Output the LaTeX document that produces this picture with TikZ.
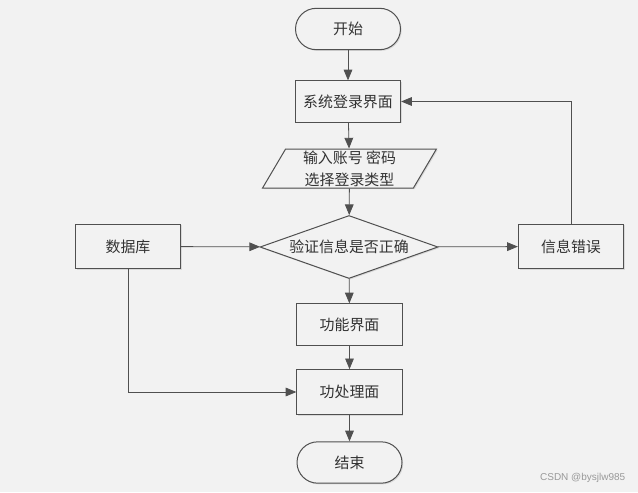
\documentclass[tikz,border=0pt]{standalone}
\usepackage{fontspec}
\setmainfont{Noto Sans CJK SC}
\newfontfamily\wmfont{Liberation Sans}
\usetikzlibrary{shapes.geometric,arrows.meta,shadows}
\definecolor{bg}{HTML}{F2F2F2}
\definecolor{ln}{HTML}{505050}
\definecolor{tx}{HTML}{333333}
\tikzset{
  base/.style={draw=ln, line width=0.75pt, fill=bg, text=tx, font=\fontsize{11.2pt}{14pt}\selectfont,
    drop shadow={shadow xshift=0.9pt, shadow yshift=-0.9pt, fill=black, opacity=0.10}},
  term/.style={base, rectangle, rounded corners=15.5pt, minimum width=78.75pt, minimum height=31pt},
  proc/.style={base, rectangle, minimum width=79pt, minimum height=31pt},
  procb/.style={base, rectangle, minimum width=79pt, minimum height=33.5pt},
  io/.style={base, trapezium, trapezium left angle=65, trapezium right angle=115, trapezium stretches=true,
    minimum width=131pt, minimum height=29.25pt, inner sep=0pt, align=center, font=\fontsize{11.2pt}{16.5pt}\selectfont},
  dec/.style={base, diamond, aspect=2.83, minimum width=133.5pt, minimum height=47.25pt, inner sep=0pt},
  conn/.style={draw=ln, line width=0.6pt, -{Triangle[length=8pt,width=6.5pt]}}
}
\begin{document}
\begin{tikzpicture}[x=0.75pt,y=-0.75pt]
\fill[bg] (0,0) rectangle (638,492);
\path[use as bounding box] (0,0) rectangle (638,492);
\node[term] (start) at (348,29) {开始};
\node[proc] (login) at (348,101.5) {系统登录界面};
\node[io] (input) at (349.5,168.5) {输入账号 密码\\选择登录类型};
\node[dec] (check) at (349,247) {验证信息是否正确};
\node[procb] (db) at (128,246.5) {数据库};
\node[procb] (err) at (571,246.5) {信息错误};
\node[proc] (func) at (349.5,324.5) {功能界面};
\node[procb] (work) at (349.5,392) {功处理面};
\node[term] (end) at (349.5,462.5) {结束};
\draw[conn] (start) -- (login);
\draw[conn] (login) -- (input);
\draw[conn] (input) -- (check);
\draw[conn] (check) -- (func);
\draw[conn] (func) -- (work);
\draw[conn] (work) -- (end);
\draw[conn] (db) -- (check);
\draw[conn] (check) -- (err);
\draw[conn] (err.north) |- (login.east);
\draw[conn] (db.south) |- (work.west);
\node[font=\wmfont\fontsize{7.5pt}{9pt}\selectfont, text=black!40, anchor=east] (wm) at (630,478) {CSDN @bysjlw985};
\end{tikzpicture}
\end{document}
